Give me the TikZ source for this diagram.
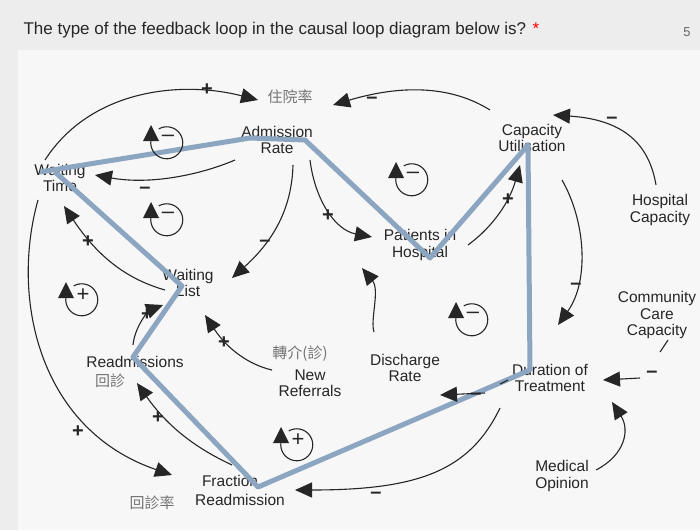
\documentclass[tikz,border=0pt]{standalone}
\usepackage{fontspec}
\setmainfont{Liberation Sans}
\newfontfamily\cjk{Noto Sans CJK TC}
\usetikzlibrary{arrows.meta}
\definecolor{ovl}{RGB}{140,166,194}
\begin{document}
\begin{tikzpicture}[x=1pt,y=-1pt,
  lbl/.style={font=\fontsize{15.5}{16.5}\selectfont,text=black!85,align=center,inner sep=1pt},
  cj/.style={font=\cjk\fontsize{15}{16}\selectfont,text=black!55,inner sep=1pt},
  lnk/.style={line width=1.1pt,black!85,-{Triangle[length=17pt,width=15pt]}},
  sgn/.style={font=\fontsize{20}{20}\selectfont\bfseries,text=black!85,inner sep=0pt},
  blue/.style={line width=5pt,color=ovl,line join=round}]
\fill[gray!14] (0,0) rectangle (700,530);
\fill[gray!6] (18,50) rectangle (700,530);
\useasboundingbox (0,0) rectangle (700,530);
\node[anchor=west,font=\fontsize{17}{18}\selectfont,text=black!85] (title) at (20,30) {The type of the feedback loop in the causal loop diagram below is? \textcolor{red}{*}};
\node[font=\fontsize{13}{14}\selectfont,text=black!60] (num) at (687,32) {5};
% nodes
\node[cj] (ar0) at (290,97) {住院率};
\node[lbl] (ar) at (277,140) {Admission\\Rate};
\node[lbl] (cu) at (532,138) {Capacity\\Utilisation};
\node[lbl] (wt) at (60,178) {Waiting\\Time};
\node[lbl] (hc) at (660,210) {Hospital\\Capacity};
\node[lbl] (ph) at (420,245) {Patients in\\Hospital};
\node[lbl] (wl) at (188,283) {Waiting\\List};
\node[lbl] (cc) at (657,315) {Community\\Care\\Capacity};
\node[lbl] (rd) at (135,362) {Readmissions};
\node[cj] (rd0) at (110,381) {回診};
\node[cj] (nr0) at (300,354) {轉介(診)};
\node[lbl] (nr) at (310,383) {New\\Referrals};
\node[lbl] (dr) at (405,368) {Discharge\\Rate};
\node[lbl] (dt) at (550,378) {Duration of\\Treatment};
\node[lbl] (mo) at (562,476) {Medical\\Opinion};
\node[lbl] (fr) at (230,481) {Fraction};
\node[lbl] (fr2) at (240,500) {Readmission};
\node[cj] (fr0) at (152,503) {回診率};
% blue overlay
\draw[blue] (40,172) -- (250,138) -- (305,140) -- (430,258) -- (528,145) -- (530,370) -- (258,487) -- (133,357) -- (182,286) -- (55,172);
% links
\draw[lnk] (235,160) .. controls (200,175) and (150,185) .. (95,175);
\node[sgn] at (145,190) {--};
\draw[lnk] (45,160) .. controls (90,90) and (180,80) .. (258,100);
\node[sgn] at (207,90) {+};
\draw[lnk] (490,110) .. controls (450,85) and (400,85) .. (333,105);
\node[sgn] at (372,100) {--};
\draw[lnk] (656,185) .. controls (650,150) and (630,120) .. (553,115);
\node[sgn] at (612,120) {--};
\draw[lnk] (468,245) .. controls (495,225) and (510,200) .. (520,165);
\node[sgn] at (508,200) {+};
\draw[lnk] (310,160) .. controls (315,200) and (335,230) .. (372,237);
\node[sgn] at (328,216) {+};
\draw[lnk] (293,165) .. controls (292,200) and (280,235) .. (232,278);
\node[sgn] at (265,243) {--};
\draw[lnk] (165,290) .. controls (130,280) and (100,260) .. (64,206);
\node[sgn] at (88,242) {+};
\draw[lnk] (133,345) .. controls (135,325) and (150,310) .. (163,305);
\node[sgn] at (147,315) {+};
\draw[lnk] (272,370) .. controls (250,365) and (228,350) .. (205,315);
\node[sgn] at (224,343) {+};
\draw[lnk] (232,465) .. controls (200,450) and (170,430) .. (137,383);
\node[sgn] at (158,418) {+};
\draw[lnk] (38,200) .. controls (10,300) and (40,430) .. (172,475);
\node[sgn] at (78,432) {+};
\draw[lnk] (500,408) .. controls (470,470) and (420,490) .. (295,490);
\node[sgn] at (376,495) {--};
\draw[lnk] (485,393) -- (440,395);
\draw[line width=1.1pt,black!85] (508,380) -- (500,384);
\node[sgn] at (476,396) {--};
\draw[lnk] (374,332) .. controls (370,320) and (380,290) .. (362,268);
\draw[lnk] (562,180) .. controls (585,220) and (590,280) .. (558,325);
\node[sgn] at (576,286) {--};
\draw[line width=1.1pt,black!85] (668,340) -- (660,352);
\draw[lnk] (640,378) -- (603,380);
\node[sgn] at (652,374) {--};
\draw[lnk] (596,470) .. controls (625,455) and (630,430) .. (612,402);
% loop markers
\foreach \x/\y/\s/\nm in {165/138/--/l1,165/215/--/l2,410/175/--/l3,470/315/--/l4,80/295/+/l5,295/440/+/l6}{
  \node[sgn,font=\fontsize{22}{22}\selectfont] (\nm) at (\x+3,\y) {\s};
  \draw[line width=1.1pt,black!85] (\x-14,\y+2) arc[start angle=190,end angle=-120,radius=16];
  \fill[black!85] (\x-22,\y+3) -- (\x-6,\y+3) -- (\x-14,\y-13) -- cycle;
}
\end{tikzpicture}
\end{document}
